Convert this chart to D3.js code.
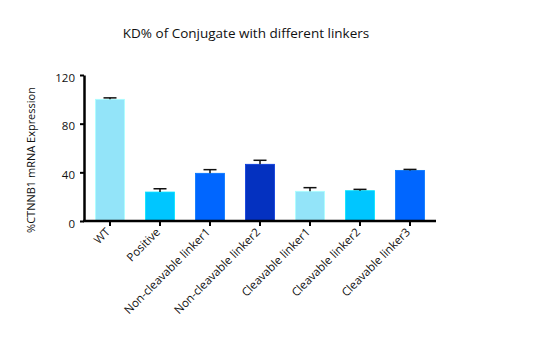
<!DOCTYPE html>
<html>
<head>
<meta charset="utf-8">
<title>KD% of Conjugate with different linkers</title>
<script src="https://cdnjs.cloudflare.com/ajax/libs/d3/7.8.5/d3.min.js"></script>
<style>
  body { margin: 0; background: #fff; }
  text { font-family: "Open Sans", "DejaVu Sans", sans-serif; fill: #111; }
</style>
</head>
<body>
<script>
const categories = ["WT", "Positive", "Non-cleavable linker1", "Non-cleavable linker2",
                    "Cleavable linker1", "Cleavable linker2", "Cleavable linker3"]
const means = [100, 23.8, 39.2, 46.6, 24.4, 24.9, 41.6]
const errors = [1.2, 2.7, 3.0, 3.3, 3.0, 1.1, 0.8]
const colors = ["#93e4f9", "#00c6ff", "#0066ff", "#0431c0", "#93e4f9", "#00c6ff", "#0066ff"]
const yTicks = [0, 40, 80, 120]

const width = 550, height = 346

const svg = d3.select("body").append("svg")
    .attr("width", width)
    .attr("height", height)

const x = d3.scaleBand()
    .domain(categories)
    .range([85, 435])
    .paddingInner(0.42)
    .paddingOuter(0.21)

const y = d3.scaleLinear()
    .domain([0, 120])
    .range([221, 75])

// title
svg.append("text")
    .attr("x", 246)
    .attr("y", 38)
    .attr("text-anchor", "middle")
    .style("font-size", "13.5px")
    .text("KD% of Conjugate with different linkers")

// y label
svg.append("text")
    .attr("transform", "translate(35,160) rotate(-90)")
    .attr("text-anchor", "middle")
    .style("font-size", "11px")
    .text("%CTNNB1 mRNA Expression")

// bars
svg.selectAll(".bar")
    .data(categories)
    .enter()
    .append("rect")
        .attr("class", "bar")
        .attr("x", d => x(d))
        .attr("width", x.bandwidth())
        .attr("y", (d, i) => y(means[i]))
        .attr("height", (d, i) => y(0) - y(means[i]))
        .attr("fill", (d, i) => colors[i])
        .attr("stroke", (d, i) => d3.color(colors[i]).brighter(0.4))
        .attr("stroke-width", 0.8)

// error bars (upper only)
const eb = svg.selectAll(".err")
    .data(categories)
    .enter()
    .append("g")
        .attr("class", "err")
        .attr("stroke", "#111")
        .attr("stroke-width", 1.5)
eb.append("line")
    .attr("x1", d => x(d) + x.bandwidth() / 2)
    .attr("x2", d => x(d) + x.bandwidth() / 2)
    .attr("y1", (d, i) => y(means[i]))
    .attr("y2", (d, i) => y(means[i] + errors[i]))
eb.append("line")
    .attr("x1", d => x(d) + x.bandwidth() / 2 - 6.5)
    .attr("x2", d => x(d) + x.bandwidth() / 2 + 6.5)
    .attr("y1", (d, i) => y(means[i] + errors[i]))
    .attr("y2", (d, i) => y(means[i] + errors[i]))

// y axis
const yAxis = svg.append("g")
    .attr("transform", "translate(84,0)")
    .call(d3.axisLeft(y).tickValues(yTicks).tickSize(4).tickSizeOuter(0))
yAxis.select(".domain").attr("stroke", "#000").attr("stroke-width", 2.5)
yAxis.selectAll(".tick line").attr("stroke", "#000").attr("stroke-width", 2)
yAxis.selectAll(".tick text")
    .attr("x", -9)
    .attr("dy", "0.55em")
    .style("font-size", "11.5px")
    .style("fill", "#111")

// x axis
const xAxis = svg.append("g")
    .attr("transform", `translate(0,${y(0)})`)
    .call(d3.axisBottom(x).tickSize(5).tickSizeOuter(0))
xAxis.select(".domain")
    .attr("d", "M83,0H436")
    .attr("stroke", "#000").attr("stroke-width", 2.5)
xAxis.selectAll(".tick line").attr("stroke", "#000").attr("stroke-width", 2)
xAxis.selectAll(".tick text")
    .attr("text-anchor", "end")
    .attr("transform", "translate(-2,9) rotate(-45)")
    .attr("x", 0).attr("y", 0).attr("dy", "0.35em")
    .style("font-size", "11.5px")
    .style("fill", "#111")
</script>
</body>
</html>
